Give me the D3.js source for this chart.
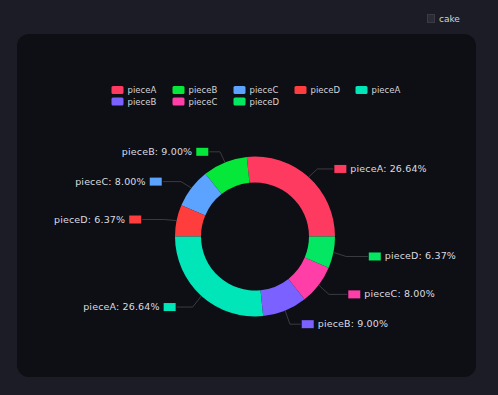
<!DOCTYPE html>
<html>
<head>
<meta charset="utf-8">
<script src="https://cdn.jsdelivr.net/npm/d3@7"></script>
<style>
  html, body { margin: 0; padding: 0; background: #1b1c25; }
  svg { display: block; font-family: "DejaVu Sans", sans-serif; }
</style>
</head>
<body>
<div id="chart"></div>
<script>
const names = ['pieceA', 'pieceB', 'pieceC', 'pieceD', 'pieceA', 'pieceB', 'pieceC', 'pieceD'];
const values = [26.64, 9.00, 8.00, 6.37, 26.64, 9.00, 8.00, 6.37];
const colors = ['#ff3a60', '#05e83a', '#5ca3ff', '#ff3d3d', '#00e6b8', '#7b61ff', '#ff3ea8', '#04e763'];
const seriesName = 'cake';

const width = 498, height = 395;
const cx = 255, cy = 236.5;
const outerR = 80, innerR = 54;

const svg = d3.select('#chart')
  .append('svg')
  .attr('width', width)
  .attr('height', height);

svg.append('rect')
  .attr('width', width)
  .attr('height', height)
  .attr('fill', '#1b1c25');

// dark panel
svg.append('rect')
  .attr('x', 17)
  .attr('y', 34)
  .attr('width', 459)
  .attr('height', 343)
  .attr('rx', 12)
  .attr('fill', '#0e0f14');

// series toggle at top right
svg.append('rect')
  .attr('x', 427.5)
  .attr('y', 14.5)
  .attr('width', 7)
  .attr('height', 8)
  .attr('fill', '#2a2b33')
  .attr('stroke', '#3a3b44');

svg.append('text')
  .attr('x', 439)
  .attr('y', 19)
  .attr('dominant-baseline', 'middle')
  .attr('font-size', '9px')
  .attr('fill', '#d4d4d8')
  .text(seriesName);

// legend, 5 per row
const legend = svg.append('g');
const items = legend.selectAll('g')
  .data(names)
  .enter()
  .append('g')
  .attr('transform', (d, i) => `translate(${111.5 + (i % 5) * 61}, ${90 + Math.floor(i / 5) * 11.5})`);

items.append('rect')
  .attr('x', 0)
  .attr('y', -4)
  .attr('width', 12)
  .attr('height', 8)
  .attr('rx', 1.5)
  .attr('fill', (d, i) => colors[i]);

items.append('text')
  .attr('x', 16)
  .attr('y', 0.5)
  .attr('dominant-baseline', 'middle')
  .attr('font-size', '8.5px')
  .attr('fill', '#d4d4d8')
  .text(d => d);

// donut
const pie = d3.pie()
  .sort(null)
  .startAngle(Math.PI / 2)
  .endAngle(Math.PI / 2 - 2 * Math.PI)
  .value(d => d);

const arcs = pie(values);
const arc = d3.arc().innerRadius(innerR).outerRadius(outerR);

const g = svg.append('g').attr('transform', `translate(${cx}, ${cy})`);

g.selectAll('path')
  .data(arcs)
  .enter()
  .append('path')
  .attr('d', arc)
  .attr('fill', (d, i) => colors[i]);

// labels with leader lines
const lab = g.selectAll('.lab')
  .data(arcs)
  .enter()
  .append('g')
  .attr('class', 'lab');

lab.each(function(d, i) {
  const mid = (d.startAngle + d.endAngle) / 2;
  const s = Math.sin(mid), c = -Math.cos(mid);
  const right = s > 0;
  const dir = right ? 1 : -1;
  const p1 = [outerR * s, outerR * c];
  const p2 = [(outerR + 13) * s, (outerR + 13) * c + 1.5];
  const edge = dir * (111 * Math.abs(s) + 5);
  const p3 = [edge - dir * 1, p2[1]];
  const el = d3.select(this);

  el.append('polyline')
    .attr('points', [p1, p2, p3].map(p => p.join(',')).join(' '))
    .attr('fill', 'none')
    .attr('stroke', '#3b3c42')
    .attr('stroke-width', 1);

  const sqX = right ? edge : edge - 12;
  el.append('rect')
    .attr('x', sqX)
    .attr('y', p2[1] - 4)
    .attr('width', 12)
    .attr('height', 8)
    .attr('fill', colors[i]);

  el.append('text')
    .attr('x', right ? edge + 16 : edge - 16)
    .attr('y', p2[1] + 0.5)
    .attr('text-anchor', right ? 'start' : 'end')
    .attr('dominant-baseline', 'middle')
    .attr('font-size', '9.5px')
    .attr('letter-spacing', '0.15px')
    .attr('fill', '#dcdce0')
    .text(`${names[i]}: ${values[i].toFixed(2)}%`);
});
</script>
</body>
</html>
